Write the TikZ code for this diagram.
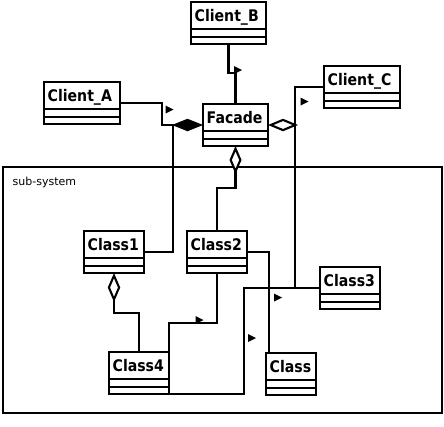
\documentclass[tikz,border=0pt]{standalone}
\usepackage{fontspec}
\newfontfamily\dv{DejaVu Sans}
\newfontfamily\dvb[FakeStretch=0.88]{DejaVu Sans Bold}
\usetikzlibrary{arrows.meta}
\tikzset{
  clsbox/.style={draw, fill=white, line width=2.6pt, inner sep=0pt, outer sep=0pt, anchor=north west, minimum height=42pt},
  clsname/.style={anchor=base west, inner sep=0pt, font=\dvb\fontsize{16}{16}\selectfont},
  conn/.style={line width=2.1pt},
  comp/.style={conn, -{Diamond[length=31pt,width=12.5pt]}},
  aggr/.style={conn, -{Diamond[open,fill=white,length=30pt,width=12.5pt]}},
  aggrs/.style={conn, {Diamond[open,fill=white,length=28pt,width=12pt]}-},
  frame/.style={line width=2pt},
}
\newcommand\umlcls[5]{%
  \node[clsbox, minimum width=#4pt] (#1) at (#2,#3) {};
  \draw[line width=2.6pt] ([yshift=-27pt]#1.north west) -- ([yshift=-27pt]#1.north east)
    ([yshift=-35pt]#1.north west) -- ([yshift=-35pt]#1.north east);
  \node[clsname] (#1-name) at ([xshift=3.5pt,yshift=-19.5pt]#1.north west) {#5};}
\newcommand\dirtri[2]{\fill (#1,#2) -- ++(0,8) -- ++(8,-4) -- cycle;}
\begin{document}
\begin{tikzpicture}[x=1pt,y=-1pt]
\useasboundingbox (0,0) rectangle (444,426);
% sub-system frame
\draw[frame] (2.5,166.5) rectangle (442,413);
\node[anchor=base west, inner sep=0pt, font=\dv\fontsize{11}{11}\selectfont] (sublabel) at (12.5,185.5) {sub-system};
% classes
\umlcls{cb}{191}{2}{75}{Client\_B}
\umlcls{ca}{44}{82}{76}{Client\_A}
\umlcls{fa}{203}{104}{65}{Facade}
\umlcls{cc}{324}{66}{76}{Client\_C}
\umlcls{c1}{84}{231}{60}{Class1}
\umlcls{c2}{187}{231}{60}{Class2}
\umlcls{c3}{320}{267}{60}{Class3}
\umlcls{c4}{109}{352}{60}{Class4}
\umlcls{cl}{266}{353}{50}{Class}
% connectors
\coordinate (ja) at (173,125);
\coordinate (jc) at (295,125);
\draw[conn] (ca.east) -| (162,125) -- (ja);
\draw[comp] (c1.east) -| (ja) -- (fa.west);
\draw[conn] (cb.south) -- ++(0,29) -| (fa.north);
\draw[aggr] (cc.west) -| (jc) -- (fa.east);
\draw[conn] (jc) -- (jc |- c3.west);
\draw[conn] (c3.west) -| ([xshift=75pt]c4.south east) -- (c4.south east);
\draw[aggrs] (fa.south) -- ++(0,42) -| (c2.north);
\draw[conn] (c2.east) -| ([xshift=3pt]cl.north west);
\draw[conn] (c2.south) -- ++(0,50) -| (c4.north east);
\draw[conn, {Diamond[open,fill=white,length=29pt,width=12.5pt]}-] (c1.south) -- ++(0,40) -| (c4.north);
% direction triangles
\dirtri{165.5}{105.5}
\dirtri{234}{66}
\dirtri{300.5}{97.5}
\dirtri{195.5}{316}
\dirtri{248}{334}
\dirtri{274}{293.5}
\end{tikzpicture}
\end{document}
